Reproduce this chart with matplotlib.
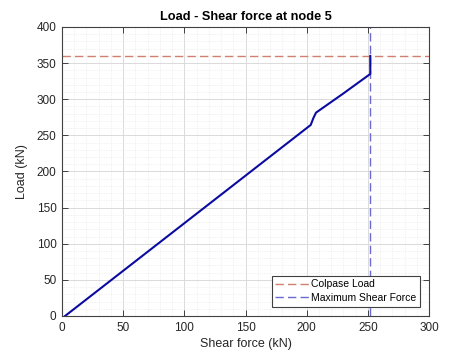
import matplotlib
matplotlib.use("Agg")
import matplotlib.pyplot as plt
from matplotlib.ticker import MultipleLocator

shear = [2.5, 203.3, 205.4, 207.6, 230.0, 252.0, 252.0]
load = [0.0, 264.4, 273.6, 281.4, 308.0, 335.0, 360.0]
collapse_load = 360.0
max_shear = 252.0

plt.rcParams['font.family'] = ['Liberation Sans', 'DejaVu Sans']

fig = plt.figure(figsize=(4.74, 3.55), dpi=100)
ax = fig.add_axes([0.1308, 0.1099, 0.9051 - 0.1308, 0.924 - 0.1099])

ax.plot(shear, load, color='#0B0BA0', lw=1.5, zorder=3)
ax.axhline(collapse_load, color='#D08070', ls=(0, (6, 3)), lw=1.0, label='Colpase Load', zorder=2)
ax.axvline(max_shear, color='#6A6AD0', ls=(0, (6, 3)), lw=1.0, label='Maximum Shear Force', zorder=2)

ax.set_xlim(0, 300)
ax.set_ylim(0, 400)
ax.xaxis.set_major_locator(MultipleLocator(50))
ax.yaxis.set_major_locator(MultipleLocator(50))
ax.xaxis.set_minor_locator(MultipleLocator(10))
ax.yaxis.set_minor_locator(MultipleLocator(10))
ax.grid(which='major', color='#DADADA', lw=0.7)
ax.grid(which='minor', color='#E6E6E6', lw=0.5, ls=(0, (1, 1.5)))
ax.set_axisbelow(True)

ax.tick_params(which='both', direction='in', top=True, right=True, colors='#404040', labelcolor='#262626', labelsize=8.5)
ax.tick_params(which='major', length=4, width=0.7, pad=4)
ax.tick_params(which='minor', length=0)
for s in ax.spines.values():
    s.set_color('#404040')
    s.set_linewidth(0.8)

ax.set_xlabel('Shear force (kN)', fontsize=9, color='#262626', labelpad=3)
ax.set_ylabel('Load (kN)', fontsize=9, color='#262626', labelpad=6)
ax.set_title('Load - Shear force at node 5', fontsize=9.2, fontweight='bold', pad=5)

leg = ax.legend(loc='lower right', fontsize=7.5, frameon=True, fancybox=False,
                edgecolor='#404040', framealpha=1, borderpad=0.35, labelspacing=0.35,
                handlelength=3.2, handletextpad=0.2, borderaxespad=0.9)
leg.get_frame().set_linewidth(0.8)

fig.savefig('out.png', dpi=100, facecolor='white')
